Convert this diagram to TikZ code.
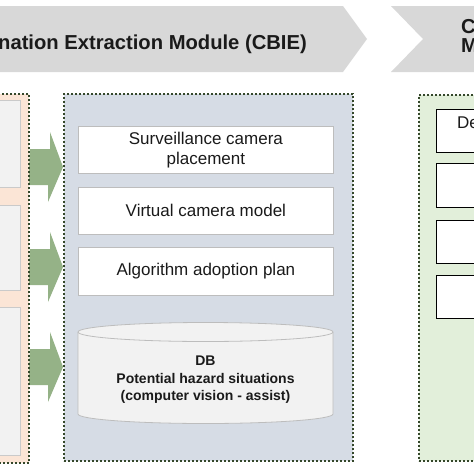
\documentclass[tikz,border=0pt]{standalone}
\usepackage{fontspec}
\setmainfont{Liberation Sans}
\usetikzlibrary{positioning,calc,backgrounds}
\definecolor{BannerGray}{HTML}{D8D8D8}
\definecolor{DotGreen}{HTML}{34472A}
\definecolor{PeachFill}{HTML}{FBE5D6}
\definecolor{SlateFill}{HTML}{D6DCE5}
\definecolor{MintFill}{HTML}{E2EFDA}
\definecolor{ArrowGreen}{HTML}{95B287}
\definecolor{BoxGray}{HTML}{F2F2F2}
\definecolor{EdgeGray}{HTML}{BDBDBD}
\definecolor{InkDark}{HTML}{1A1A1A}

\tikzset{
  panel/.style={draw=DotGreen,line width=2pt,dash pattern=on 2pt off 2pt,
                inner sep=0pt,anchor=north west},
  stepbox/.style={draw=EdgeGray,fill=white,line width=0.8pt,inner sep=0pt,
                  minimum width=255pt,minimum height=47pt,align=center,
                  text=InkDark,font=\fontsize{17}{20}\selectfont},
  sidebox/.style={draw=EdgeGray!80,fill=BoxGray,line width=0.8pt,inner sep=0pt,
                  minimum width=30pt,anchor=north west},
  outbox/.style={draw=black,fill=white,line width=1.2pt,inner sep=0pt,
                 minimum width=60pt,minimum height=43pt,anchor=north west},
  headtext/.style={text=InkDark,font=\fontsize{20.2}{23}\selectfont\bfseries,
                   inner sep=0pt}
}

\begin{document}
\begin{tikzpicture}[x=1pt,y=-1pt]
  \useasboundingbox (0,0) rectangle (474,474);
  \clip (0,0) rectangle (474,474);

  % banner chevrons
  \fill[BannerGray] (-10,6) -- (343,6) -- (367,39) -- (343,72) -- (-10,72) -- cycle;
  \fill[BannerGray] (391,6) -- (490,6) -- (490,72) -- (391,72) -- (423,39) -- cycle;
  \node[headtext,anchor=base east] (cbie) at (307,49) {nation Extraction Module (CBIE)};
  \node[headtext,anchor=base west] (modC) at (461,33) {C};
  \node[headtext,anchor=base west] (modM) at (461,52) {M};

  % panels
  \node[panel,fill=PeachFill,minimum width=38pt,minimum height=369pt] (lpanel) at (-10,93) {};
  \node[panel,fill=SlateFill,minimum width=289pt,minimum height=367pt] (mpanel) at (63,93) {};
  \node[panel,fill=MintFill,minimum width=80pt,minimum height=366pt] (rpanel) at (418,94) {};

  % left column
  \node[sidebox,minimum height=87pt] (src1) at (-10,100) {};
  \node[sidebox,minimum height=85pt] (src2) at (-10,205) {};
  \node[sidebox,minimum height=148pt] (src3) at (-10,307) {};

  % block arrows
  \begin{scope}[on background layer]
    \foreach \y in {167,267,367}
      \fill[ArrowGreen] (lpanel.east |- 0,\y) ++(0,-18) -- ++(20,0) -- ++(0,-17)
        -- (mpanel.west |- 0,\y) -- ++(-15,35) -- ++(0,-17) -- ++(-20,0) -- cycle;
  \end{scope}

  % middle items
  \node[stepbox,anchor=north west] (place) at (78,126) {Surveillance camera\\placement};
  \node[stepbox,below=13pt of place] (vcam) {Virtual camera model};
  \node[stepbox,below=12pt of vcam,minimum height=48pt] (algo) {Algorithm adoption plan};

  % database
  \filldraw[fill=BoxGray,draw=EdgeGray,line width=0.8pt]
    (78,332) -- (78,414) arc[start angle=180,end angle=360,x radius=127.5pt,y radius=9.5pt]
    -- (333,332) arc[start angle=0,end angle=180,x radius=127.5pt,y radius=9.5pt] -- cycle;
  \draw[EdgeGray,line width=0.8pt]
    (333,332) arc[start angle=0,end angle=-180,x radius=127.5pt,y radius=9.5pt];
  \node[align=center,text=InkDark,font=\fontsize{14}{17.5}\selectfont\bfseries] (db) at (205.5,380)
    {DB\\Potential hazard situations\\(computer vision - assist)};

  % right column
  \node[outbox] (out1) at (436,109) {};
  \node[outbox,minimum height=44pt] (out2) at (436,163) {};
  \node[outbox] (out3) at (436,220) {};
  \node[outbox] (out4) at (436,275) {};
  \node[anchor=west,inner sep=0pt,text=InkDark,font=\fontsize{17}{20}\selectfont] (detxt) at (457,123) {De};
\end{tikzpicture}
\end{document}
